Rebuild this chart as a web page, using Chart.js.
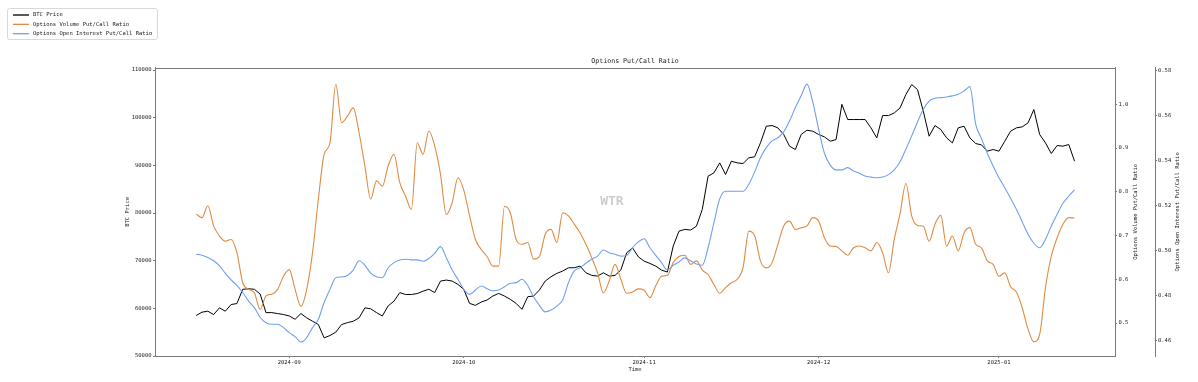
<!DOCTYPE html>
<html>
<head>
<meta charset="utf-8">
<title>Options Put/Call Ratio</title>
<script src="https://cdn.jsdelivr.net/npm/chart.js@4.4.1/dist/chart.umd.min.js"></script>
<style>
  html, body { margin: 0; padding: 0; background: #fff; }
</style>
</head>
<body>
<canvas id="chart" width="1198" height="382"></canvas>
<script>
// daily values starting 2024-08-16
const startDate = "2024-08-16";

const btcPrice = [
  58500, 59200, 59400, 58700, 60100, 59400, 60800, 61000, 64000, 64100,
  64000, 63000, 59100, 59100, 58900, 58700, 58400, 57700, 58900, 58000,
  57300, 56600, 53800, 54300, 55000, 56600, 57000, 57300, 58000, 60100,
  59900, 59100, 58400, 60500, 61500, 63300, 62900, 62900, 63100, 63600,
  64000, 63300, 65720, 65930, 65720, 65020, 63970, 61040, 60620, 61320,
  61740, 62580, 63130, 62580, 61880, 61040, 59790, 62440, 62580, 63830,
  65720, 66630, 67330, 67820, 68510, 68510, 68860, 67460, 66910, 66770,
  67460, 66770, 66910, 68030, 71650, 72700, 70810, 69910, 69420, 68860,
  68030, 67610, 73060, 76200, 76560, 76420, 77250, 80750, 87730, 88420,
  90520, 88080, 90870, 90520, 90380, 91570, 91780, 94710, 98210, 98350,
  97860, 96470, 94020, 93320, 96470, 97370, 97160, 96470, 95970, 95060,
  95410, 102800, 99610, 99610, 99610, 99610, 97860, 95760, 100440, 100440,
  100990, 102040, 104850, 106950, 105900, 101350, 96110, 98350, 97510, 95760,
  94710, 97860, 98210, 95760, 94570, 94290, 92970, 93320, 92970, 95060,
  97160, 97860, 98070, 98910, 101700, 96470, 94710, 92480, 94160, 94020,
  94370, 90870
];

const volumeRatio = [
  0.749, 0.741, 0.768, 0.722, 0.699, 0.687, 0.691, 0.661, 0.592, 0.577,
  0.569, 0.531, 0.562, 0.566, 0.577, 0.607, 0.622, 0.577, 0.538, 0.577,
  0.661, 0.783, 0.886, 0.912, 1.046, 0.958, 0.973, 0.992, 0.935, 0.859,
  0.783, 0.825, 0.813, 0.859, 0.886, 0.821, 0.790, 0.760, 0.912, 0.886,
  0.939, 0.905, 0.840, 0.748, 0.775, 0.832, 0.804, 0.745, 0.691, 0.668,
  0.652, 0.630, 0.630, 0.767, 0.752, 0.691, 0.680, 0.684, 0.646, 0.652,
  0.703, 0.714, 0.684, 0.752, 0.745, 0.726, 0.706, 0.680, 0.649, 0.615,
  0.569, 0.596, 0.634, 0.600, 0.568, 0.571, 0.578, 0.575, 0.558, 0.585,
  0.607, 0.609, 0.638, 0.652, 0.655, 0.634, 0.642, 0.621, 0.611, 0.588,
  0.568, 0.581, 0.592, 0.600, 0.626, 0.710, 0.700, 0.642, 0.626, 0.638,
  0.680, 0.722, 0.733, 0.714, 0.718, 0.722, 0.741, 0.733, 0.695, 0.676,
  0.675, 0.665, 0.655, 0.672, 0.676, 0.672, 0.665, 0.684, 0.661, 0.615,
  0.691, 0.750, 0.819, 0.745, 0.723, 0.721, 0.687, 0.726, 0.746, 0.676,
  0.699, 0.665, 0.706, 0.718, 0.680, 0.672, 0.642, 0.634, 0.607, 0.615,
  0.583, 0.571, 0.535, 0.486, 0.457, 0.474, 0.581, 0.653, 0.695, 0.726,
  0.741, 0.740
];

const oiRatio = [
  0.4984, 0.4980, 0.4970, 0.4955, 0.4932, 0.4900, 0.4870, 0.4846, 0.4814, 0.4776,
  0.4747, 0.4703, 0.4680, 0.4673, 0.4673, 0.4658, 0.4636, 0.4618, 0.4594, 0.4614,
  0.4658, 0.4695, 0.4770, 0.4828, 0.4880, 0.4883, 0.4890, 0.4914, 0.4955, 0.4935,
  0.4900, 0.4884, 0.4880, 0.4924, 0.4947, 0.4959, 0.4962, 0.4959, 0.4959, 0.4953,
  0.4965, 0.4988, 0.5018, 0.4969, 0.4914, 0.4873, 0.4828, 0.4806, 0.4825, 0.4843,
  0.4831, 0.4822, 0.4825, 0.4840, 0.4855, 0.4858, 0.4873, 0.4845, 0.4795, 0.4757,
  0.4728, 0.4736, 0.4754, 0.4781, 0.4858, 0.4910, 0.4924, 0.4944, 0.4962, 0.4976,
  0.5003, 0.4991, 0.4984, 0.4976, 0.4979, 0.5013, 0.5039, 0.5053, 0.5013, 0.4979,
  0.4947, 0.4914, 0.4935, 0.4950, 0.4968, 0.4955, 0.4941, 0.4935, 0.5013, 0.5124,
  0.5230, 0.5264, 0.5264, 0.5264, 0.5264, 0.5295, 0.5350, 0.5413, 0.5458, 0.5488,
  0.5502, 0.5528, 0.5576, 0.5636, 0.5688, 0.5740, 0.5660, 0.5540, 0.5433, 0.5380,
  0.5359, 0.5359, 0.5369, 0.5354, 0.5344, 0.5332, 0.5327, 0.5324, 0.5327, 0.5338,
  0.5359, 0.5395, 0.5451, 0.5510, 0.5572, 0.5628, 0.5665, 0.5677, 0.5680, 0.5683,
  0.5688, 0.5695, 0.5710, 0.5729, 0.5562, 0.5498, 0.5433, 0.5376, 0.5324, 0.5280,
  0.5233, 0.5184, 0.5128, 0.5073, 0.5033, 0.5013, 0.5051, 0.5110, 0.5162, 0.5211,
  0.5243, 0.5270
];

const monthTicks = ["2024-09-01", "2024-10-01", "2024-11-01", "2024-12-01", "2025-01-01"];
const monthLabels = ["2024-09", "2024-10", "2024-11", "2024-12", "2025-01"];
const btcTicks = [50000, 60000, 70000, 80000, 90000, 100000, 110000];
const volTicks = [0.5, 0.6, 0.7, 0.8, 0.9, 1.0];
const volLabels = ["0.5", "0.6", "0.7", "0.8", "0.9", "1.0"];
const oiTicks = [0.46, 0.48, 0.50, 0.52, 0.54, 0.56, 0.58];
const oiLabels = ["0.46", "0.48", "0.50", "0.52", "0.54", "0.56", "0.58"];

const FONT = "'DejaVu Sans Mono', monospace";
const TEXT = "#222";
const AXIS = "#7a7a7a";
const DAY = 86400000;
const t0 = Date.parse(startDate);
const dayOf = s => (Date.parse(s) - t0) / DAY;
const points = arr => arr.map((v, i) => ({ x: i, y: v }));

Chart.defaults.font.family = FONT;
Chart.defaults.font.size = 5.5;
Chart.defaults.color = TEXT;

// top spine of the frame
const frameTop = {
  id: "frameTop",
  afterDraw(chart) {
    const { ctx, chartArea: a } = chart;
    ctx.save();
    ctx.strokeStyle = AXIS;
    ctx.lineWidth = 1;
    ctx.beginPath();
    ctx.moveTo(a.left, Math.round(a.top) + 0.5);
    ctx.lineTo(a.right, Math.round(a.top) + 0.5);
    ctx.stroke();
    ctx.restore();
  }
};

const watermark = {
  id: "watermark",
  beforeDatasetsDraw(chart) {
    const { ctx, chartArea: a } = chart;
    ctx.save();
    ctx.font = "bold 13px " + FONT;
    ctx.fillStyle = "#cdcdcd";
    ctx.textAlign = "center";
    ctx.textBaseline = "middle";
    ctx.fillText("WTR", a.left + a.width * 0.476, a.top + a.height * 0.463);
    ctx.restore();
  }
};

// right axis titles read bottom-to-top like the left one
const rightTitles = {
  id: "rightTitles",
  afterDraw(chart) {
    const { ctx, chartArea: a } = chart;
    const cy = (a.top + a.bottom) / 2;
    const items = [
      [chart.scales.y1.left + 20.3, "Options Volume Put/Call Ratio"],
      [chart.scales.y2.left + 23, "Options Open Interest Put/Call Ratio"]
    ];
    ctx.save();
    ctx.font = "5.5px " + FONT;
    ctx.fillStyle = TEXT;
    ctx.textAlign = "center";
    ctx.textBaseline = "middle";
    items.forEach(([x, text]) => {
      ctx.save();
      ctx.translate(x, cy);
      ctx.rotate(-Math.PI / 2);
      ctx.fillText(text, 0, 0);
      ctx.restore();
    });
    ctx.restore();
  }
};

const legendBox = {
  id: "legendBox",
  afterDraw(chart) {
    const ctx = chart.ctx;
    ctx.save();
    ctx.strokeStyle = "#d9d9d9";
    ctx.lineWidth = 1;
    ctx.beginPath();
    ctx.roundRect(7.5, 8.5, 150, 31, 2);
    ctx.stroke();
    ctx.font = "5.5px " + FONT;
    ctx.fillStyle = TEXT;
    ctx.textBaseline = "middle";
    chart.data.datasets.forEach((ds, i) => {
      const y = 15 + i * 9.35;
      ctx.strokeStyle = ds.borderColor;
      ctx.lineWidth = 1.3;
      ctx.beginPath();
      ctx.moveTo(13, y);
      ctx.lineTo(29, y);
      ctx.stroke();
      ctx.fillText(ds.label, 33, y);
    });
    ctx.restore();
  }
};

const fixedTicks = values => scale => { scale.ticks = values.map(v => ({ value: v })); };

new Chart(document.getElementById("chart"), {
  type: "line",
  data: {
    datasets: [
      {
        label: "BTC Price",
        data: points(btcPrice),
        yAxisID: "y",
        borderColor: "#000000",
        borderWidth: 1,
        tension: 0,
        order: 3
      },
      {
        label: "Options Volume Put/Call Ratio",
        data: points(volumeRatio),
        yAxisID: "y1",
        borderColor: "#df8b42",
        borderWidth: 1.1,
        cubicInterpolationMode: "monotone",
        order: 2
      },
      {
        label: "Options Open Interest Put/Call Ratio",
        data: points(oiRatio),
        yAxisID: "y2",
        borderColor: "#6f9ff0",
        borderWidth: 1.1,
        cubicInterpolationMode: "monotone",
        order: 1
      }
    ]
  },
  options: {
    responsive: false,
    devicePixelRatio: 1,
    animation: false,
    layout: { padding: 0 },
    elements: { point: { radius: 0 } },
    plugins: {
      legend: { display: false },
      tooltip: { enabled: false },
      title: {
        display: true,
        text: "Options Put/Call Ratio",
        fullSize: false,
        color: TEXT,
        font: { size: 6.6, weight: "normal" },
        padding: { top: 57.3, bottom: 2.5 }
      }
    },
    scales: {
      x: {
        type: "linear",
        min: -7.08,
        max: 157.95,
        afterBuildTicks: fixedTicks(monthTicks.map(dayOf)),
        afterFit: s => { s.height = 26; },
        ticks: { autoSkip: false, maxRotation: 0, padding: 1.5, callback: (v, i) => monthLabels[i] },
        grid: { drawOnChartArea: false, tickLength: 2, color: AXIS },
        border: { color: AXIS },
        title: { display: true, text: "Time", padding: { top: 0, bottom: 9.4 } }
      },
      y: {
        position: "left",
        min: 50000,
        max: 110480,
        afterBuildTicks: fixedTicks(btcTicks),
        afterFit: s => { s.width = 155; },
        ticks: { padding: 1.5, callback: v => String(v) },
        grid: { drawOnChartArea: false, tickLength: 2, color: AXIS },
        border: { color: AXIS },
        title: { display: true, text: "BTC Price", padding: { top: 124, bottom: 0 } }
      },
      y1: {
        position: "right",
        weight: 0,
        min: 0.4246,
        max: 1.0837,
        afterBuildTicks: fixedTicks(volTicks),
        afterFit: s => { s.width = 40; },
        ticks: { padding: 1.5, callback: (v, i) => volLabels[i] },
        grid: { drawOnChartArea: false, tickLength: 2, color: AXIS },
        border: { color: AXIS }
      },
      y2: {
        position: "right",
        weight: 1,
        min: 0.4532,
        max: 0.5813,
        afterBuildTicks: fixedTicks(oiTicks),
        afterFit: s => { s.width = 43; },
        ticks: { padding: 1, callback: (v, i) => oiLabels[i] },
        grid: { drawOnChartArea: false, tickLength: 2, color: AXIS },
        border: { color: AXIS }
      }
    }
  },
  plugins: [frameTop, watermark, rightTitles, legendBox]
});
</script>
</body>
</html>
